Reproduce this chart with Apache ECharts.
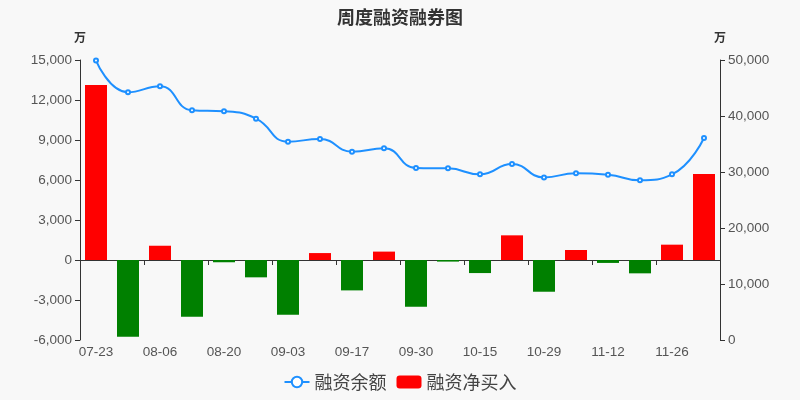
<!DOCTYPE html>
<html>
<head>
<meta charset="utf-8">
<script src="https://cdn.jsdelivr.net/npm/echarts@6/dist/echarts.min.js"></script>
<style>html,body{margin:0;padding:0;background:#f8f8f8;}#c{width:800px;height:400px;}</style>
</head>
<body>
<div id="c"></div>
<script>
var categories = ['07-23','07-30','08-06','08-13','08-20','08-27','09-03','09-10','09-17','09-24','09-30','10-08','10-15','10-22','10-29','11-05','11-12','11-19','11-26','12-03'];
var netBuy = [13120,-5750,1070,-4250,-170,-1300,-4100,520,-2280,630,-3500,-120,-980,1850,-2380,750,-220,-1000,1150,6450];
var balance = [49900,44230,45300,41010,40830,39520,35420,35890,33630,34230,30710,30650,29580,31430,29040,29760,29530,28510,29580,36070];
var leftTicks = {min:-6000, max:15000, interval:3000};
var rightTicks = {min:0, max:50000, interval:10000};

var chart = echarts.init(document.getElementById('c'));
var cjk = '"Noto Sans CJK SC", "Noto Sans", sans-serif';
var num = '"Liberation Sans", Arial, sans-serif';
chart.setOption({
  backgroundColor:'#f8f8f8',
  title:{text:'周度融资融券图', left:'center', top:3, textStyle:{fontSize:18, fontWeight:'bold', color:'#333', fontFamily:cjk}},
  legend:{bottom:4, itemGap:10, itemWidth:25, itemHeight:13, textStyle:{fontSize:18, color:'#444', fontFamily:cjk},
    data:['融资余额','融资净买入']},
  grid:{left:80, right:80, top:60, bottom:60},
  xAxis:[{
    type:'category', data:categories, boundaryGap:true,
    axisLine:{onZero:true, lineStyle:{color:'#333'}},
    axisTick:{show:true, interval:1, lineStyle:{color:'#333'}},
    axisLabel:{show:false}
  },{
    type:'category', data:categories, position:'bottom', boundaryGap:true,
    axisLine:{show:false, onZero:false}, axisTick:{show:false},
    axisLabel:{interval:1, color:'#555', fontSize:13.5, margin:5, fontFamily:num}
  }],
  yAxis:[{
    type:'value', name:'万', nameGap:17, min:leftTicks.min, max:leftTicks.max, interval:leftTicks.interval,
    nameTextStyle:{color:'#333', fontWeight:'bold', fontSize:12, align:'center', fontFamily:cjk},
    axisLine:{show:true, lineStyle:{color:'#333'}}, axisTick:{show:true},
    splitLine:{show:false},
    axisLabel:{color:'#555', fontSize:13.5, fontFamily:num}
  },{
    type:'value', name:'万', nameGap:17, min:rightTicks.min, max:rightTicks.max, interval:rightTicks.interval,
    nameTextStyle:{color:'#333', fontWeight:'bold', fontSize:12, align:'center', fontFamily:cjk},
    axisLine:{show:true, lineStyle:{color:'#333'}}, axisTick:{show:true},
    splitLine:{show:false},
    axisLabel:{color:'#555', fontSize:13.5, fontFamily:num}
  }],
  series:[{
    name:'融资净买入', type:'bar', xAxisIndex:0, yAxisIndex:0, barWidth:22,
    itemStyle:{color:'#ff0000'},
    data:netBuy.map(function(v){return {value:v, itemStyle:{color: v>=0 ? '#ff0000' : '#008000'}};})
  },{
    name:'融资余额', type:'line', xAxisIndex:0, yAxisIndex:1, smooth:true,
    symbol:'emptyCircle', symbolSize:4,
    lineStyle:{color:'#1e90ff', width:2}, itemStyle:{color:'#1e90ff', borderWidth:1},
    data:balance
  }]
});
</script>
</body>
</html>
